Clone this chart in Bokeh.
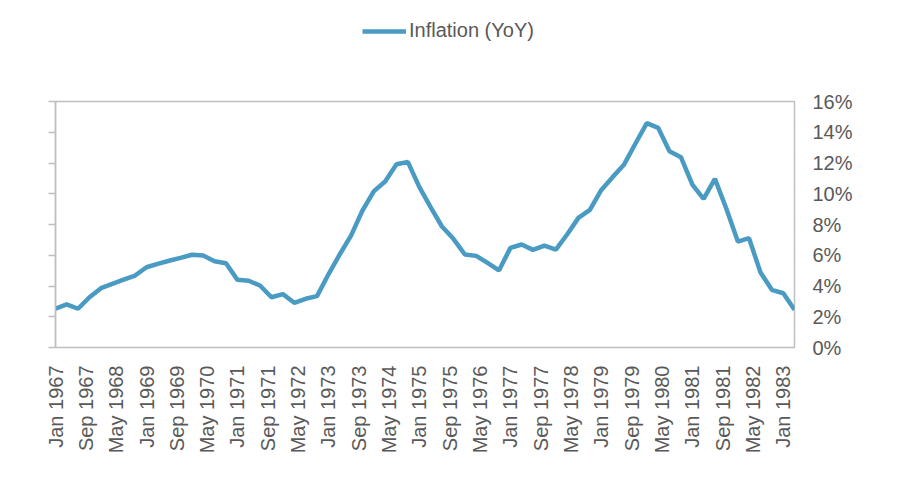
import pandas as pd
from bokeh.plotting import figure
from bokeh.layouts import column
from bokeh.models import (Range1d, LinearAxis, FixedTicker, PrintfTickFormatter,
                          DatetimeTickFormatter, Legend, LegendItem, ColumnDataSource)
from bokeh.embed import file_html
from bokeh.resources import INLINE

# ---- data (quarterly, Jan 1967 .. Apr 1983) ----
start_date = "1967-01-01"
end_date = "1983-04-01"
dates = pd.date_range(start_date, end_date, freq="QS-JAN")
inflation = [
    2.52, 2.80, 2.52, 3.27, 3.86, 4.14, 4.42, 4.68, 5.22, 5.44, 5.64, 5.83,
    6.03, 5.98, 5.61, 5.48, 4.40, 4.34, 4.03, 3.27, 3.47, 2.91, 3.17, 3.34,
    4.76, 6.05, 7.28, 8.91, 10.17, 10.80, 11.92, 12.06, 10.43, 9.13, 7.87, 7.07,
    6.05, 5.96, 5.50, 5.01, 6.48, 6.70, 6.35, 6.63, 6.37, 7.35, 8.43, 8.95,
    10.25, 11.08, 11.88, 13.25, 14.59, 14.29, 12.77, 12.38, 10.60, 9.67, 10.97, 9.02,
    6.89, 7.11, 4.90, 3.75, 3.53, 2.45,
]
tick_labels = [
    "Jan 1967", "Sep 1967", "May 1968", "Jan 1969", "Sep 1969", "May 1970",
    "Jan 1971", "Sep 1971", "May 1972", "Jan 1973", "Sep 1973", "May 1974",
    "Jan 1975", "Sep 1975", "May 1976", "Jan 1977", "Sep 1977", "May 1978",
    "Jan 1979", "Sep 1979", "May 1980", "Jan 1981", "Sep 1981", "May 1982",
    "Jan 1983",
]
y_ticks = [0, 2, 4, 6, 8, 10, 12, 14, 16]
series_name = "Inflation (YoY)"

LINE = "#4A9BC4"
GREY = "#BFBFBF"
TEXT = "#595959"
FONT = "Liberation Sans"
TOP_H = 60

tick_dates = pd.to_datetime(tick_labels, format="%b %Y")
tick_ms = [d.timestamp() * 1000 for d in tick_dates]

src = ColumnDataSource(dict(x=dates, y=inflation))

# ---------- main chart ----------
p = figure(width=900, height=491 - TOP_H, output_backend="svg", toolbar_location=None,
           x_axis_type="datetime", y_axis_location="right",
           x_range=Range1d(dates[0], dates[-1]), y_range=Range1d(0, 16),
           min_border_left=55, min_border_right=106, min_border_top=101 - TOP_H,
           min_border_bottom=144)
p.background_fill_color = "white"
p.border_fill_color = "white"
p.outline_line_color = GREY
p.outline_line_width = 1.5
p.xgrid.visible = False
p.ygrid.visible = False

r = p.line("x", "y", source=src, line_color=LINE, line_width=4.5)

# x axis
xa = p.xaxis[0]
xa.ticker = FixedTicker(ticks=tick_ms)
xa.formatter = DatetimeTickFormatter(months="%b %Y", days="%b %Y", years="%b %Y")
xa.major_label_orientation = 1.5707963
xa.axis_line_color = None
xa.major_tick_line_color = None
xa.minor_tick_line_color = None
xa.major_label_standoff = 12
xa.major_label_text_font = FONT
xa.major_label_text_font_size = "20px"
xa.major_label_text_color = TEXT

# right y axis (labels)
ya = p.yaxis[0]
ya.ticker = FixedTicker(ticks=y_ticks)
ya.formatter = PrintfTickFormatter(format="%d%%")
ya.axis_line_color = None
ya.major_tick_line_color = None
ya.minor_tick_line_color = None
ya.major_label_standoff = 12
ya.major_label_text_font = FONT
ya.major_label_text_font_size = "20px"
ya.major_label_text_color = TEXT

# left y axis (ticks only)
la = LinearAxis(ticker=FixedTicker(ticks=y_ticks))
la.axis_line_color = GREY
la.axis_line_width = 1.5
la.major_tick_line_color = GREY
la.major_tick_line_width = 1.5
la.major_tick_in = 0
la.major_tick_out = 7
la.minor_tick_line_color = None
la.major_label_text_color = None
la.major_label_text_font_size = "1px"
la.major_label_standoff = 0
p.add_layout(la, "left")

# ---------- legend strip on top ----------
top = figure(width=900, height=TOP_H, output_backend="svg", toolbar_location=None,
             x_axis_location=None, y_axis_location=None,
             x_range=Range1d(0, 1), y_range=Range1d(0, 1),
             min_border_left=0, min_border_right=0, min_border_top=0,
             min_border_bottom=0)
top.outline_line_color = None
top.xgrid.visible = False
top.ygrid.visible = False
dummy = top.line(x=[-2, -1], y=[-2, -1], line_color=LINE, line_width=4.5)
legend = Legend(items=[LegendItem(label=series_name, renderers=[dummy])],
                location=(307, 18), orientation="horizontal",
                padding=0, margin=0, glyph_width=44, glyph_height=20,
                label_standoff=3, label_height=20,
                label_text_font=FONT, label_text_font_size="20px",
                label_text_color=TEXT, border_line_color=None,
                background_fill_alpha=0)
top.add_layout(legend, "center")

layout = column(top, p, spacing=0)
open("out.html", "w").write(file_html(layout, INLINE))
